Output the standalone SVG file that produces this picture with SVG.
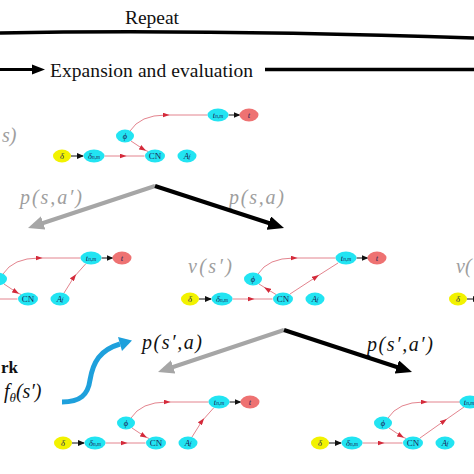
<svg xmlns="http://www.w3.org/2000/svg" width="474" height="474" viewBox="0 0 474 474">
<style>
.cy{fill:#22e4f2}
.ye{fill:#f2f200}
.rd{fill:#ee7272}
.nl{font-family:"Liberation Serif",serif;font-style:italic;font-size:8.5px;fill:#1c2458;text-anchor:middle}
.cn{font-family:"Liberation Serif",serif;font-size:9px;fill:#1c2458;text-anchor:middle}
.sub{font-size:5.5px}
.re{fill:none;stroke:#e3848e;stroke-width:1;marker-mid:url(#mr)}
.bk{fill:none;stroke:#111;stroke-width:1;marker-end:url(#mb)}
.math{font-family:"Liberation Serif",serif;font-style:italic;font-size:20px}
.gr{fill:#9e9e9e}
.hd{font-family:"Liberation Serif",serif;font-size:19.5px;fill:#111}
</style>
<defs>
<marker id="mr" markerUnits="userSpaceOnUse" markerWidth="7" markerHeight="5" refX="3.5" refY="2.5" orient="auto"><path d="M0,0 L7,2.5 L0,5 z" fill="#d42a3a"/></marker>
<marker id="mb" markerUnits="userSpaceOnUse" markerWidth="7" markerHeight="6" refX="6" refY="3" orient="auto"><path d="M0,0 L7,3 L0,6 z" fill="#111"/></marker>
<marker id="ag" markerUnits="userSpaceOnUse" markerWidth="17" markerHeight="14" refX="8" refY="7" orient="auto"><path d="M0,0 L16,7 L0,14 z" fill="#a6a6a6"/></marker>
<marker id="ak" markerUnits="userSpaceOnUse" markerWidth="17" markerHeight="14" refX="8" refY="7" orient="auto"><path d="M0,0 L16,7 L0,14 z" fill="#000"/></marker>
</defs>
<rect width="474" height="474" fill="#fff"/>

<g id="header">
<text class="hd" x="125" y="24" textLength="54">Repeat</text>
<path d="M0,33 Q200,29 474,38" fill="none" stroke="#000" stroke-width="3.5"/>
<line x1="0" y1="69.5" x2="34" y2="69.5" stroke="#000" stroke-width="3"/>
<polygon points="32,64.5 45,69.5 32,74.5" fill="#000"/>
<text class="hd" x="50" y="77" textLength="203">Expansion and evaluation</text>
<line x1="265" y1="69.5" x2="474" y2="69.5" stroke="#000" stroke-width="3.5"/>
</g>

<g id="labels">
<text class="math gr" x="2" y="142">s)</text>
<text class="math gr" x="20" y="204" textLength="62">p(s,a′)</text>
<text class="math gr" x="229" y="204" textLength="55">p(s,a)</text>
<text class="math gr" x="188" y="273" textLength="44">v(s′)</text>
<text class="math gr" x="456" y="273">v(</text>
<text class="math" x="142" y="349" textLength="60" fill="#111">p(s′,a)</text>
<text class="math" x="367" y="351" textLength="66" fill="#111">p(s′,a′)</text>
<text x="1" y="373" font-family="'Liberation Serif',serif" font-size="17" font-weight="bold" fill="#111">rk</text>
<text class="math" x="4" y="398" fill="#111">f<tspan font-size="13" dy="4">θ</tspan><tspan dy="-4">(s′)</tspan></text>
</g>

<g id="connectors">
<line x1="155" y1="186" x2="35.6" y2="225.5" stroke="#a6a6a6" stroke-width="4" marker-end="url(#ag)"/>
<line x1="155" y1="186" x2="276.4" y2="225.5" stroke="#000" stroke-width="4" marker-end="url(#ak)"/>
<line x1="284" y1="330" x2="165.6" y2="369.5" stroke="#a6a6a6" stroke-width="4" marker-end="url(#ag)"/>
<line x1="284" y1="330" x2="404.4" y2="369.5" stroke="#000" stroke-width="4" marker-end="url(#ak)"/>
<path d="M62,402 C80,402 88,395 90,380 C93,362 100,350 120,344" fill="none" stroke="#1ea0dc" stroke-width="5"/>
<polygon points="132,340.5 122,351 118,337" fill="#1ea0dc"/>
</g>

<g id="graph1" transform="translate(62,156)">
<g class="edges">
<path class="bk" d="M9,0 L21,0"/>
<path class="re" d="M42.5,0 L61,0 L82.5,0"/>
<path class="re" d="M69,-15 L81,-7 L86,-4.5"/>
<path class="re" d="M68,-25 Q78,-41 104,-41 L145.5,-41"/>
<path class="bk" d="M166.5,-41 L177.5,-41"/>
</g>
<g id="g1-delta"><ellipse class="ye" cx="0" cy="0" rx="9" ry="6.5"/><text class="nl" x="0" y="3">δ</text></g>
<g id="g1-dnm"><ellipse class="cy" cx="32" cy="0" rx="10.5" ry="6.5"/><text class="nl" x="32" y="3">δ<tspan class="sub">n,m</tspan></text></g>
<g id="g1-cn"><ellipse class="cy" cx="93" cy="0" rx="10" ry="6.5"/><text class="cn" x="93" y="3.2">CN</text></g>
<g id="g1-af"><ellipse class="cy" cx="125" cy="0" rx="9.5" ry="6.5"/><text class="nl" x="125" y="3">A<tspan class="sub">f</tspan></text></g>
<g id="g1-phi"><ellipse class="cy" cx="63" cy="-20" rx="9" ry="6.5"/><text class="nl" x="63" y="-17">ϕ</text></g>
<g id="g1-tnm"><ellipse class="cy" cx="156" cy="-41" rx="10.5" ry="6.5"/><text class="nl" x="156" y="-38">t<tspan class="sub">n,m</tspan></text></g>
<g id="g1-t"><ellipse class="rd" cx="187" cy="-41" rx="9.5" ry="6.5"/><text class="nl" x="187" y="-38">t</text></g>
</g>

<g id="graph2" transform="translate(-65,299)">
<g class="edges">
<path class="re" d="M42.5,0 L61,0 L82.5,0"/>
<path class="re" d="M69,-15 L81,-7 L86,-4.5"/>
<path class="re" d="M68,-25 Q78,-41 104,-41 L145.5,-41"/>
<path class="re" d="M129,-6 L139,-22 L151,-35.5"/>
<path class="bk" d="M166.5,-41 L177.5,-41"/>
</g>
<g id="g2-cn"><ellipse class="cy" cx="93" cy="0" rx="10" ry="6.5"/><text class="cn" x="93" y="3.2">CN</text></g>
<g id="g2-af"><ellipse class="cy" cx="125" cy="0" rx="9.5" ry="6.5"/><text class="nl" x="125" y="3">A<tspan class="sub">f</tspan></text></g>
<g id="g2-phi"><ellipse class="cy" cx="63" cy="-20" rx="9" ry="6.5"/></g>
<g id="g2-tnm"><ellipse class="cy" cx="156" cy="-41" rx="10.5" ry="6.5"/><text class="nl" x="156" y="-38">t<tspan class="sub">n,m</tspan></text></g>
<g id="g2-t"><ellipse class="rd" cx="187" cy="-41" rx="9.5" ry="6.5"/><text class="nl" x="187" y="-38">t</text></g>
</g>

<g id="graph3" transform="translate(190,299)">
<g class="edges">
<path class="bk" d="M9,0 L21,0"/>
<path class="re" d="M42.5,0 L61,0 L82.5,0"/>
<path class="re" d="M86,-4.5 L77,-10 L69,-15"/>
<path class="re" d="M68,-25 Q78,-41 104,-41 L145.5,-41"/>
<path class="re" d="M100,-5 L126,-22 L148,-36"/>
<path class="bk" d="M166.5,-41 L177.5,-41"/>
</g>
<g id="g3-delta"><ellipse class="ye" cx="0" cy="0" rx="9" ry="6.5"/><text class="nl" x="0" y="3">δ</text></g>
<g id="g3-dnm"><ellipse class="cy" cx="32" cy="0" rx="10.5" ry="6.5"/><text class="nl" x="32" y="3">δ<tspan class="sub">n,m</tspan></text></g>
<g id="g3-cn"><ellipse class="cy" cx="93" cy="0" rx="10" ry="6.5"/><text class="cn" x="93" y="3.2">CN</text></g>
<g id="g3-af"><ellipse class="cy" cx="125" cy="0" rx="9.5" ry="6.5"/><text class="nl" x="125" y="3">A<tspan class="sub">f</tspan></text></g>
<g id="g3-phi"><ellipse class="cy" cx="63" cy="-20" rx="9" ry="6.5"/><text class="nl" x="63" y="-17">ϕ</text></g>
<g id="g3-tnm"><ellipse class="cy" cx="156" cy="-41" rx="10.5" ry="6.5"/><text class="nl" x="156" y="-38">t<tspan class="sub">n,m</tspan></text></g>
<g id="g3-t"><ellipse class="rd" cx="187" cy="-41" rx="9.5" ry="6.5"/><text class="nl" x="187" y="-38">t</text></g>
</g>

<g id="graph4" transform="translate(458,299)">
<g class="edges"><path class="bk" d="M9,0 L21,0"/></g>
<g id="g4-delta"><ellipse class="ye" cx="0" cy="0" rx="9" ry="6.5"/><text class="nl" x="0" y="3">δ</text></g>
</g>

<g id="graph5" transform="translate(63,443)">
<g class="edges">
<path class="bk" d="M9,0 L21,0"/>
<path class="re" d="M42.5,0 L61,0 L82.5,0"/>
<path class="re" d="M69,-15 L81,-7 L86,-4.5"/>
<path class="re" d="M68,-25 Q78,-41 104,-41 L145.5,-41"/>
<path class="re" d="M129,-6 L139,-22 L151,-35.5"/>
<path class="bk" d="M166.5,-41 L177.5,-41"/>
</g>
<g id="g5-delta"><ellipse class="ye" cx="0" cy="0" rx="9" ry="6.5"/><text class="nl" x="0" y="3">δ</text></g>
<g id="g5-dnm"><ellipse class="cy" cx="32" cy="0" rx="10.5" ry="6.5"/><text class="nl" x="32" y="3">δ<tspan class="sub">n,m</tspan></text></g>
<g id="g5-cn"><ellipse class="cy" cx="93" cy="0" rx="10" ry="6.5"/><text class="cn" x="93" y="3.2">CN</text></g>
<g id="g5-af"><ellipse class="cy" cx="125" cy="0" rx="9.5" ry="6.5"/><text class="nl" x="125" y="3">A<tspan class="sub">f</tspan></text></g>
<g id="g5-phi"><ellipse class="cy" cx="63" cy="-20" rx="9" ry="6.5"/><text class="nl" x="63" y="-17">ϕ</text></g>
<g id="g5-tnm"><ellipse class="cy" cx="156" cy="-41" rx="10.5" ry="6.5"/><text class="nl" x="156" y="-38">t<tspan class="sub">n,m</tspan></text></g>
<g id="g5-t"><ellipse class="rd" cx="187" cy="-41" rx="9.5" ry="6.5"/><text class="nl" x="187" y="-38">t</text></g>
</g>

<g id="graph6" transform="translate(320,443)">
<g class="edges">
<path class="bk" d="M9,0 L21,0"/>
<path class="re" d="M42.5,0 L61,0 L82.5,0"/>
<path class="re" d="M69,-15 L81,-7 L86,-4.5"/>
<path class="re" d="M68,-25 Q78,-41 104,-41 L140,-41"/>
<path class="re" d="M100,-5 L124,-22 L144,-36"/>
</g>
<g id="g6-delta"><ellipse class="ye" cx="0" cy="0" rx="9" ry="6.5"/><text class="nl" x="0" y="3">δ</text></g>
<g id="g6-dnm"><ellipse class="cy" cx="32" cy="0" rx="10.5" ry="6.5"/><text class="nl" x="32" y="3">δ<tspan class="sub">n,m</tspan></text></g>
<g id="g6-cn"><ellipse class="cy" cx="93" cy="0" rx="10" ry="6.5"/><text class="cn" x="93" y="3.2">CN</text></g>
<g id="g6-af"><ellipse class="cy" cx="125" cy="0" rx="9.5" ry="6.5"/><text class="nl" x="125" y="3">A<tspan class="sub">f</tspan></text></g>
<g id="g6-phi"><ellipse class="cy" cx="63" cy="-20" rx="9" ry="6.5"/><text class="nl" x="63" y="-17">ϕ</text></g>
<g id="g6-tnm"><ellipse class="cy" cx="150" cy="-41" rx="10.5" ry="6.5"/><text class="nl" x="149" y="-38">t<tspan class="sub">n,m</tspan></text></g>
</g>
</svg>
